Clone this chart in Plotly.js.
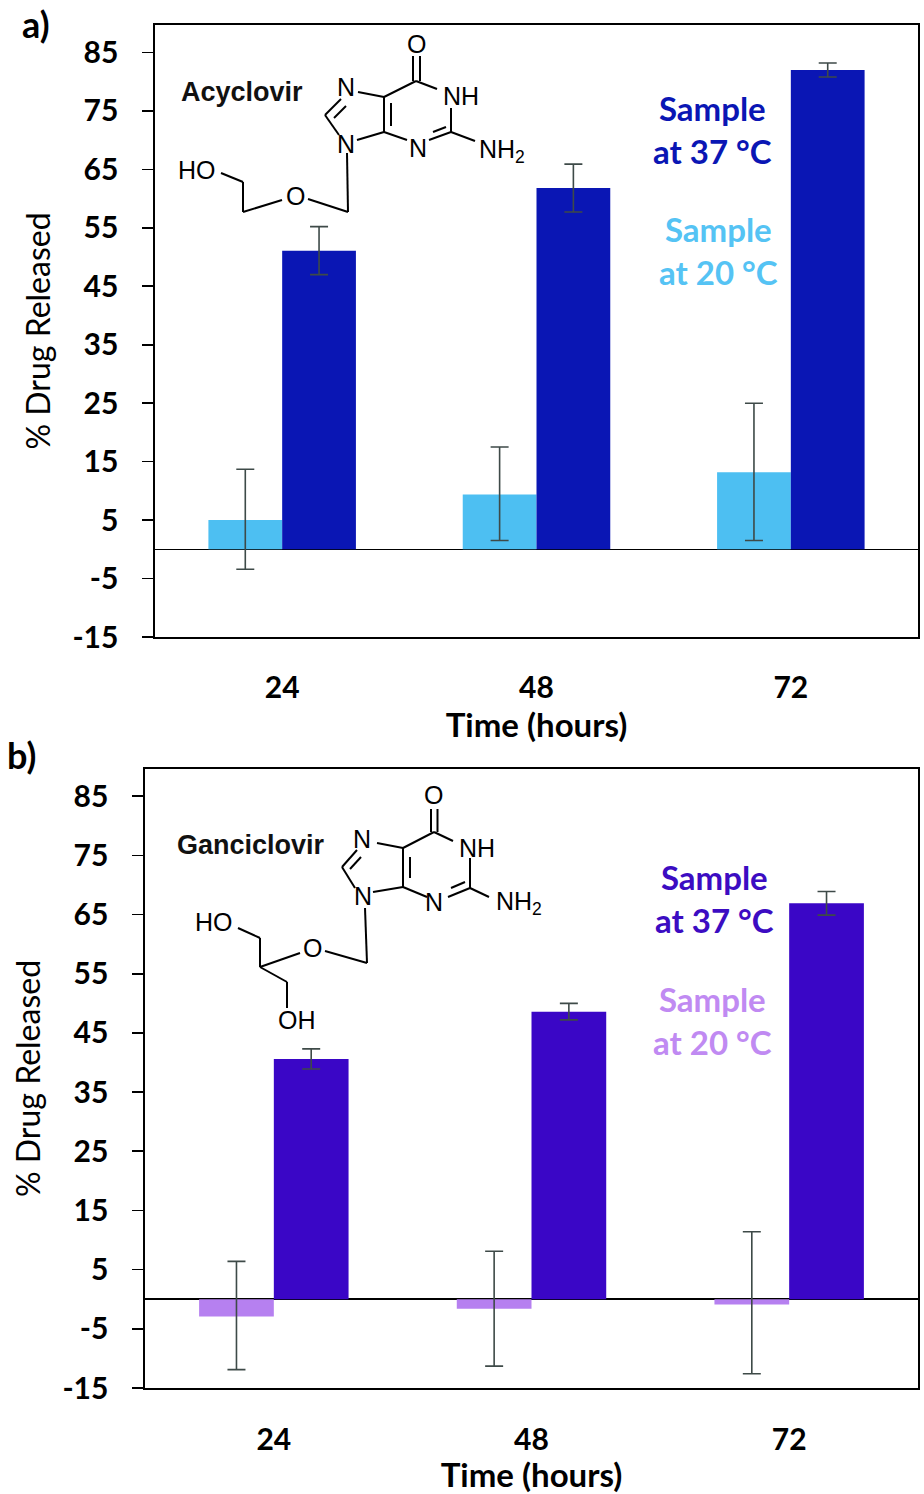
<!DOCTYPE html>
<html><head><meta charset="utf-8">
<script src="https://cdn.plot.ly/plotly-3.0.1.min.js"></script>
<style>html,body{margin:0;padding:0;background:#fff}#chart{width:924px;height:1494px}</style>
</head><body><div id="chart"></div>
<script>
// ---- data ----
const timeCats = ['24', '48', '72'];
const yTickVals = [-15, -5, 5, 15, 25, 35, 45, 55, 65, 75, 85];
const yTickText = ['-15', '-5', '5', '15', '25', '35', '45', '55', '65', '75', '85'];
// a) Acyclovir
const acyc20 = [5.0, 9.4, 13.2];
const acyc20ErrUp = [8.7, 8.1, 11.8];
const acyc20ErrDown = [8.4, 7.9, 11.7];
const acyc37 = [51.1, 61.8, 82.0];
const acyc37Err = [4.1, 4.1, 1.2];
// b) Ganciclovir
const ganc20 = [-2.9, -1.6, -0.9];
const ganc20ErrUp = [9.3, 9.7, 12.3];
const ganc20ErrDown = [9.0, 9.7, 11.7];
const ganc37 = [40.6, 48.6, 66.9];
const ganc37Err = [1.7, 1.4, 2.0];

// ---- styles ----
const W = 924, H = 1494;
const px = x => x / W;
const py = y => 1 - y / H;
const C = {
  aLight: '#4dbff2', aDark: '#0a16b4',
  bLight: '#b680f0', bDark: '#3a06c6',
  err: '#3e4a48'
};
const F = 'Lato, "Open Sans", sans-serif';
const FA = '"Liberation Sans", Arial, sans-serif';

function errSpec(up, down) {
  const e = {type: 'data', array: up, color: C.err, thickness: 1.6, width: 9, visible: true};
  if (down) { e.symmetric = false; e.arrayminus = down; } else { e.symmetric = true; }
  return e;
}

const traces = [
  {type: 'bar', x: timeCats, y: acyc20, name: 'Sample at 20 °C', marker: {color: C.aLight},
   error_y: errSpec(acyc20ErrUp, acyc20ErrDown), xaxis: 'x', yaxis: 'y'},
  {type: 'bar', x: timeCats, y: acyc37, name: 'Sample at 37 °C', marker: {color: C.aDark},
   error_y: errSpec(acyc37Err), xaxis: 'x', yaxis: 'y'},
  {type: 'bar', x: timeCats, y: ganc20, name: 'Sample at 20 °C', marker: {color: C.bLight},
   error_y: errSpec(ganc20ErrUp, ganc20ErrDown), xaxis: 'x2', yaxis: 'y2'},
  {type: 'bar', x: timeCats, y: ganc37, name: 'Sample at 37 °C', marker: {color: C.bDark},
   error_y: errSpec(ganc37Err), xaxis: 'x2', yaxis: 'y2'}
];

function xAxis(domain, anchor, standoff, titleStandoff) {
  return {
    domain: domain, anchor: anchor, type: 'category',
    showline: true, mirror: true, linecolor: '#000', linewidth: 1.6,
    ticks: '', showgrid: false, zeroline: false,
    tickfont: {family: F, size: 30, color: '#000', weight: 'bold'},
    ticklabelstandoff: standoff,
    title: {text: 'Time (hours)', font: {family: F, size: 33, color: '#000', weight: 'bold'}, standoff: titleStandoff}
  };
}
function yAxis(domain, anchor, range) {
  return {
    domain: domain, anchor: anchor, range: range,
    showline: true, mirror: true, linecolor: '#000', linewidth: 1.6,
    ticks: 'outside', ticklen: 11, tickwidth: 1.6, tickcolor: '#000',
    tickvals: yTickVals, ticktext: yTickText,
    showgrid: false, zeroline: true, zerolinecolor: '#000', zerolinewidth: 1.6,
    tickfont: {family: F, size: 30, color: '#000', weight: 'bold'},
    ticklabelstandoff: 18,
    title: {text: '% Drug Released', font: {family: F, size: 32, color: '#000'}, standoff: 12}
  };
}

// ---- molecule drawings (decoration) ----
function seg(x0, y0, x1, y1) {
  return {type: 'line', xref: 'paper', yref: 'paper', x0: px(x0), y0: py(y0), x1: px(x1), y1: py(y1),
          line: {color: '#000', width: 2}};
}
const molA = [
  [413, 56, 413, 81], [420, 56, 420, 81],           // C=O
  [416, 81, 437, 89],                               // C6-N1
  [451, 108, 451, 132],                             // N1-C2
  [451, 132, 475, 141],                             // C2-NH2
  [451, 132, 429, 140], [446, 127, 433, 132],       // C2=N3
  [407, 140, 384, 132],                             // N3-C4
  [384, 132, 384, 97], [391, 103, 391, 126],        // C4=C5
  [384, 97, 416, 81],                               // C5-C6
  [384, 97, 358, 92],                               // C5-N7
  [341, 99, 325, 115], [346, 106, 334, 118],        // N7=C8
  [325, 115, 339, 135],                             // C8-N9
  [357, 140, 384, 132],                             // N9-C4
  [347, 153, 348, 212],                             // N9-CH2
  [348, 212, 308, 199],                             // CH2-O
  [282, 200, 243, 212],                             // O-CH2
  [243, 212, 243, 182],                             // CH2-CH2
  [243, 182, 221, 173]                              // CH2-OH
];
const molB = [
  [431, 809, 431, 832], [437.5, 809, 437.5, 832],
  [434, 832, 453, 841],
  [470, 858, 470, 888],
  [470, 888, 489, 897],
  [470, 888, 448, 897], [465, 882, 451, 888],
  [427, 897, 403, 887],
  [403, 887, 403, 848], [410, 857, 410, 878],
  [403, 848, 434, 832],
  [403, 848, 377, 843],
  [357, 850, 342, 867], [361, 857, 350, 869],
  [342, 867, 355, 888],
  [373, 892, 403, 887],
  [365, 908, 367, 963],
  [367, 963, 325, 951],
  [300, 953, 260, 967],
  [260, 967, 260, 938],
  [260, 938, 238, 928],
  [260, 967, 287, 982],
  [287, 982, 287, 1008]
];
const shapes = molA.concat(molB).map(s => seg(...s));

function lab(x, y, t, opt) {
  return Object.assign({xref: 'paper', yref: 'paper', x: px(x), y: py(y), text: t, showarrow: false,
    xanchor: 'center', yanchor: 'middle', font: {family: FA, size: 25, color: '#000'}}, opt || {});
}
const atomLabels = [
  [416, 44, 'O'], [461, 96, 'NH'], [502, 151, 'NH<sub>2</sub>'], [418, 148, 'N'],
  [346, 87, 'N'], [346, 144, 'N'], [295, 196, 'O'], [197, 170, 'HO'],
  [433, 795, 'O'], [477, 848, 'NH'], [519, 903, 'NH<sub>2</sub>'], [434, 902, 'N'],
  [362, 839, 'N'], [363, 896, 'N'], [312, 948, 'O'], [214, 922, 'HO'], [297, 1020, 'OH']
].map(a => lab(a[0], a[1], a[2]));

const bigF = (c) => ({family: F, size: 33, color: c, weight: 'bold'});
const annotations = atomLabels.concat([
  lab(242, 92, 'Acyclovir', {font: {family: FA, size: 27, color: '#111', weight: 'bold'}}),
  lab(251, 845, 'Ganciclovir', {font: {family: FA, size: 27, color: '#111', weight: 'bold'}}),
  lab(712, 130, 'Sample<br>at 37 °C', {font: bigF(C.aDark)}),
  lab(718, 251, 'Sample<br>at 20 °C', {font: bigF('#55c3f4')}),
  lab(714, 898, 'Sample<br>at 37 °C', {font: bigF('#3c0cc2')}),
  lab(712, 1021, 'Sample<br>at 20 °C', {font: bigF('#c08af2')}),
  lab(36, 24, 'a)', {font: {family: F, size: 36, color: '#000', weight: 'bold'}}),
  lab(21, 755, 'b)', {font: {family: F, size: 36, color: '#000', weight: 'bold'}})
]);

const layout = {
  width: W, height: H,
  margin: {l: 0, r: 0, t: 0, b: 0},
  paper_bgcolor: '#fff', plot_bgcolor: '#fff',
  showlegend: false, hovermode: false,
  barmode: 'group', bargap: 0.42, bargroupgap: 0,
  xaxis: xAxis([px(155), px(918)], 'y', 23, 5),
  yaxis: yAxis([py(637), py(25)], 'x', [-15, 89.7]),
  xaxis2: xAxis([px(145), px(918)], 'y2', 24, 9),
  yaxis2: yAxis([py(1388), py(769)], 'x2', [-15, 89.6]),
  shapes: shapes,
  annotations: annotations
};

Plotly.newPlot('chart', traces, layout, {staticPlot: true, displayModeBar: false});
</script></body></html>
